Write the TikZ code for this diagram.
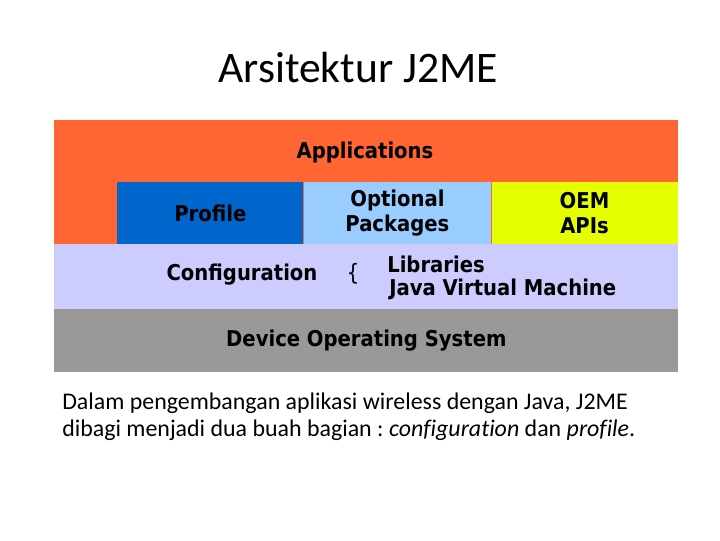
\documentclass[tikz,border=0pt]{standalone}
\usepackage{fontspec}
\setmainfont{Carlito}[Ligatures=NoCommon]
\newfontfamily\boxfont{DejaVu Sans Condensed}
\usetikzlibrary{positioning}
\definecolor{appsorange}{HTML}{FF6633}
\definecolor{profileblue}{HTML}{0066CC}
\definecolor{optblue}{HTML}{99CCFF}
\definecolor{oemyellow}{HTML}{E6FF00}
\definecolor{configlav}{HTML}{CCCCFF}
\definecolor{osgray}{HTML}{999999}
\frenchspacing

\begin{document}
\begin{tikzpicture}[x=0.025cm, y=-0.025cm,
    layer/.style={rectangle, anchor=north west, inner sep=0pt, minimum height=1.55cm, align=center, font=\boxfont\bfseries\fontsize{15.5}{17.5}\selectfont},
    boxtext/.style={inner sep=0pt, align=center, font=\boxfont\bfseries\fontsize{15.5}{17.5}\selectfont},
    bodytext/.style={inner sep=0pt, align=left, anchor=north west, font=\fontsize{17}{19.2}\selectfont}
]
    \useasboundingbox[fill=white] (0,0) rectangle (720,540);

    % Judul
    \node (title) at (358,68) {\fontsize{31}{36}\selectfont Arsitektur J2ME};

    % Lapisan aplikasi
    \node[layer, fill=appsorange, minimum width=15.6cm, minimum height=3.1cm] (apps) at (54,120) {};
    \node[boxtext] (appslabel) at (365,152) {Applications};

    % Profile, optional packages, OEM
    \node[layer, fill=profileblue, minimum width=4.65cm] (profile) at (117,182) {Profile};
    \node[layer, fill=optblue, minimum width=4.675cm, right=0pt of profile] (optional) {Optional\\Packages};
    \node[layer, fill=oemyellow, minimum width=4.65cm, right=0pt of optional] (oem) {OEM\\APIs};

    % Configuration
    \node[layer, fill=configlav, minimum width=15.6cm, minimum height=1.625cm] (config) at (54,244) {};
    \node[boxtext] (configlabel) at (242,275) {Configuration};
    \node[boxtext, font=\boxfont\fontsize{16}{17}\selectfont] (brace) at (353,274) {\{};
    \node[boxtext, anchor=west] (libs) at (387,264) {Libraries};
    \node[boxtext, anchor=west] (jvm) at (389,289) {Java Virtual Machine};

    % Sistem operasi
    \node[layer, fill=osgray, minimum width=15.6cm, minimum height=1.575cm] (os) at (54,309) {Device Operating System};

    % Keterangan
    \node[bodytext] (caption) at (62,393) {Dalam pengembangan aplikasi wireless dengan Java, J2ME\\dibagi menjadi dua buah bagian : \textit{configuration} dan \textit{profile}.};
\end{tikzpicture}
\end{document}
